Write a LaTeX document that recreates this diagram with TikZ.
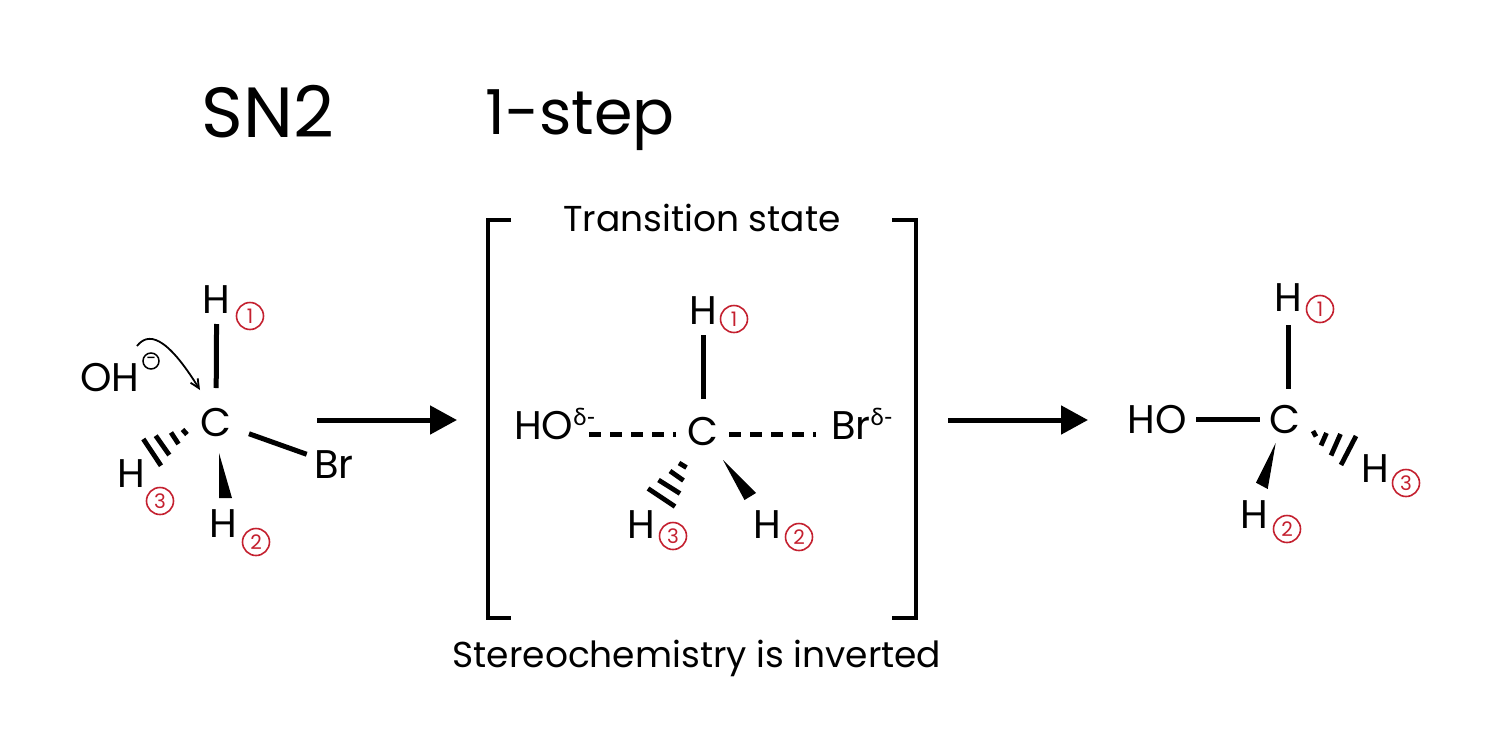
\documentclass[tikz,border=0pt]{standalone}
\usepackage{fontspec}
\setmainfont{Poppins}
\newfontfamily\grk{Lato}
\usetikzlibrary{arrows.meta,calc}
\definecolor{numred}{HTML}{C4202F}
\newcommand{\fsz}[1]{\fontsize{#1}{#1}\selectfont}
\tikzset{
  atom/.style={inner sep=0pt,outer sep=0pt,text height=28pt,text depth=0pt,font=\fsz{40}},
  num/.style={circle,draw=numred,line width=1.6pt,text=numred,minimum size=27pt,inner sep=0pt,font=\fsz{20}},
  bond/.style={line width=5pt,black},
  hash/.style={line width=4.8pt,black},
  dashbond/.style={line width=5pt,black,dash pattern=on 12pt off 9pt},
  wedge/.style={fill=black,draw=none},
  rxn/.style={line width=5pt,black,-{Triangle[length=27pt,width=28pt]}},
  brk/.style={line width=4pt,black,miter limit=10},
  caption/.style={inner sep=0pt,font=\fsz{36}},
  heading/.style={inner sep=0pt,font=\fsz{62}},
  sup/.style={inner sep=0pt,anchor=base west,font=\fsz{40}}
}
\newcommand{\sps}[1]{\raisebox{14pt}{\grk\fsz{24}#1}}
\begin{document}
\begin{tikzpicture}[x=1pt,y=-1pt]
\path[use as bounding box,fill=white] (0,0) rectangle (1499,755);
% headings
\node[heading,font=\fsz{71}] (ttlA) at (268,112) {SN2};
\node[heading] (ttlB) at (580,120) {1-step};
\node[caption] (ttlC) at (702,218) {Transition state};
\node[caption] (ttlD) at (697,658) {Stereochemistry is inverted};
% brackets
\draw[brk] (511,220) -- (488,220) -- (488,618) -- (511,618);
\draw[brk] (892,220) -- (916,220) -- (916,618) -- (892,618);
% reaction arrows
\coordinate (ra1) at (317,420); \coordinate (rb1) at (457,420);
\coordinate (ra2) at (948,420); \coordinate (rb2) at (1088,420);
\draw[rxn] (ra1) -- (rb1);
\draw[rxn] (ra2) -- (rb2);
% ---------- left structure
\node[atom] (Ca) at (216,422) {C};
\node[atom] (Ha1) at (216.7,299) {H};
\node[atom] (Ha2) at (223,523) {H};
\node[atom] (Ha3) at (131,473) {H};
\node[atom] (Bra) at (334,464) {Br};
\node[atom] (OHa) at (110,377) {OH};
\node[num] (na1) at (250,316) {1};
\node[num] (na2) at (256,542) {2};
\node[num] (na3) at (160,501) {3};
\node[circle,draw=black,line width=1.5pt,minimum size=16pt,inner sep=0pt,font=\fsz{18}] (minus) at (151,361) {−};
\draw[bond,shorten <=25pt,shorten >=34pt] (Ha1.center) -- (Ca.center);
\draw[bond,shorten <=35pt,shorten >=29pt] (Ca.center) -- (Bra.center);
\path[wedge] (219,453) -- (232,498) -- (219,498) -- cycle;
\draw[hash] (143.3,439) -- (161,465.7);
\draw[hash] (155.7,435.7) -- (169.3,455);
\draw[hash] (171,432.5) -- (178.5,444);
\draw[hash] (182.5,429.5) -- (187,434.5);
\coordinate (cs) at (137,346); \coordinate (ce) at (200,390);
\draw[line width=1.8pt,black,-{Straight Barb[length=9pt,width=14pt,angle'=50]}] (cs) .. controls (148,332) and (166,335) .. (ce);
% ---------- transition state
\node[atom] (Cb) at (703,431) {C};
\node[atom] (Hb1) at (703,310) {H};
\node[atom] (Hb2) at (767,524) {H};
\node[atom] (Hb3) at (641,524) {H};
\node[sup] (HOb) at (514,439) {HO\sps{δ-}};
\node[sup] (Brb) at (831,439) {Br\sps{δ-}};
\node[num] (nb1) at (734,319) {1};
\node[num] (nb2) at (799,537) {2};
\node[num] (nb3) at (673,536) {3};
\draw[bond,shorten <=25pt,shorten >=32pt] (Hb1.center) -- (Cb.center);
\coordinate (dashrow) at (0,434);
\draw[dashbond,shorten >=12pt] ($(HOb.west |- dashrow)+(75,0)$) -- (Cb.west |- dashrow);
\draw[dashbond,shorten <=11pt,shorten >=15pt] (Cb.east |- dashrow) -- (Brb.west |- dashrow);
\path[wedge] (723,460) -- (756,493) -- (744.5,500) -- cycle;
\draw[hash] (648,488.5) -- (675,506.5);
\draw[hash] (658.5,480) -- (680,493.5);
\draw[hash] (670,471) -- (683.5,480.5);
\draw[hash] (679,463) -- (686.5,467.5);
% ---------- right structure
\node[atom] (Cc) at (1285,419) {C};
\node[atom] (Hc1) at (1288,297) {H};
\node[atom] (Hc2) at (1254,514) {H};
\node[atom] (Hc3) at (1375,468) {H};
\node[atom] (HOc) at (1157,419) {HO};
\node[num] (nc1) at (1320,309) {1};
\node[num] (nc2) at (1287,529) {2};
\node[num] (nc3) at (1406,483) {3};
\draw[bond,shorten <=28pt,shorten >=30pt] (Hc1.center) -- (Hc1.center |- Cc.center);
\draw[bond,shorten <=39pt,shorten >=25pt] (HOc.center) -- (Cc.center);
\path[wedge] (1275.7,443) -- (1267.7,489) -- (1256,482.7) -- cycle;
\draw[hash] (1313,431) -- (1316,436.5);
\draw[hash] (1326.5,433) -- (1321,445.5);
\draw[hash] (1340.5,434) -- (1331,455.5);
\draw[hash] (1356,436) -- (1341,465);
\end{tikzpicture}
\end{document}
